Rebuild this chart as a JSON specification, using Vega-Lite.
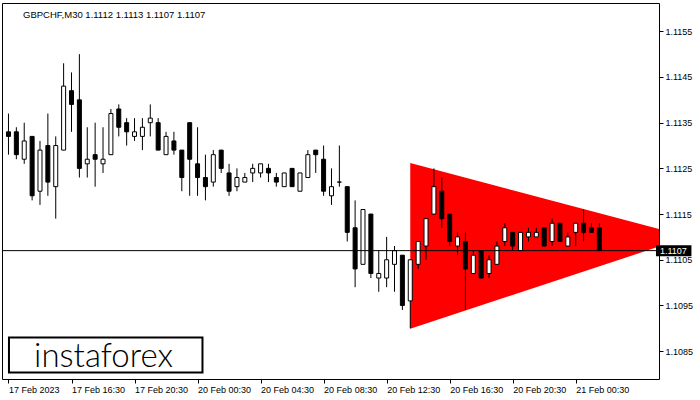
{
  "$schema": "https://vega.github.io/schema/vega-lite/v6.json",
  "width": 657,
  "height": 376,
  "autosize": {"type": "none"},
  "padding": {"left": 2, "top": 3, "right": 41, "bottom": 21},
  "background": "white",
  "config": {"view": {"stroke": "black", "strokeWidth": 1}, "font": "Liberation Sans"},
  "datasets": {
    "candles": [
      {"i":0,"o":1.1133,"h":1.1137,"l":1.1128,"c":1.1132},
      {"i":1,"o":1.1133,"h":1.1134,"l":1.1127,"c":1.1128},
      {"i":2,"o":1.1127,"h":1.1135,"l":1.1126,"c":1.1131},
      {"i":3,"o":1.1132,"h":1.1132,"l":1.1118,"c":1.1119},
      {"i":4,"o":1.1120,"h":1.1131,"l":1.1117,"c":1.1129},
      {"i":5,"o":1.1130,"h":1.1137,"l":1.1119,"c":1.1122},
      {"i":6,"o":1.1121,"h":1.1132,"l":1.1114,"c":1.1130},
      {"i":7,"o":1.1129,"h":1.1148,"l":1.1129,"c":1.1143},
      {"i":8,"o":1.1142,"h":1.1146,"l":1.1133,"c":1.1139},
      {"i":9,"o":1.1140,"h":1.1150,"l":1.1123,"c":1.1125},
      {"i":10,"o":1.1126,"h":1.1134,"l":1.1123,"c":1.1127},
      {"i":11,"o":1.1128,"h":1.1135,"l":1.1121,"c":1.1127},
      {"i":12,"o":1.1126,"h":1.1134,"l":1.1124,"c":1.1127},
      {"i":13,"o":1.1128,"h":1.1138,"l":1.1128,"c":1.1137},
      {"i":14,"o":1.1138,"h":1.1139,"l":1.1132,"c":1.1134},
      {"i":15,"o":1.1135,"h":1.1136,"l":1.1130,"c":1.1133},
      {"i":16,"o":1.1132,"h":1.1136,"l":1.1131,"c":1.1133},
      {"i":17,"o":1.1132,"h":1.1136,"l":1.1129,"c":1.1134},
      {"i":18,"o":1.1135,"h":1.1139,"l":1.1132,"c":1.1136},
      {"i":19,"o":1.1135,"h":1.1136,"l":1.1129,"c":1.1129},
      {"i":20,"o":1.1128,"h":1.1133,"l":1.1128,"c":1.1132},
      {"i":21,"o":1.1131,"h":1.1133,"l":1.1128,"c":1.1129},
      {"i":22,"o":1.1129,"h":1.1129,"l":1.1120,"c":1.1123},
      {"i":23,"o":1.1135,"h":1.1135,"l":1.1119,"c":1.1127},
      {"i":24,"o":1.1126,"h":1.1134,"l":1.1119,"c":1.1123},
      {"i":25,"o":1.1123,"h":1.1128,"l":1.1118,"c":1.1121},
      {"i":26,"o":1.1122,"h":1.1129,"l":1.1121,"c":1.1128},
      {"i":27,"o":1.1129,"h":1.1129,"l":1.1124,"c":1.1125},
      {"i":28,"o":1.1124,"h":1.1126,"l":1.1119,"c":1.1120},
      {"i":29,"o":1.1121,"h":1.1125,"l":1.1120,"c":1.1123},
      {"i":30,"o":1.1122,"h":1.1124,"l":1.1122,"c":1.1123},
      {"i":31,"o":1.1124,"h":1.1126,"l":1.1122,"c":1.1125},
      {"i":32,"o":1.1124,"h":1.1126,"l":1.1123,"c":1.1126},
      {"i":33,"o":1.1125,"h":1.1126,"l":1.1122,"c":1.1124},
      {"i":34,"o":1.1123,"h":1.1124,"l":1.1121,"c":1.1122},
      {"i":35,"o":1.1121,"h":1.1124,"l":1.1121,"c":1.1124},
      {"i":36,"o":1.1125,"h":1.1125,"l":1.1121,"c":1.1121},
      {"i":37,"o":1.1120,"h":1.1124,"l":1.1120,"c":1.1124},
      {"i":38,"o":1.1123,"h":1.1129,"l":1.1123,"c":1.1128},
      {"i":39,"o":1.1129,"h":1.1129,"l":1.1124,"c":1.1128},
      {"i":40,"o":1.1127,"h":1.1130,"l":1.1119,"c":1.1120},
      {"i":41,"o":1.1119,"h":1.1125,"l":1.1117,"c":1.1121},
      {"i":42,"o":1.1122,"h":1.1130,"l":1.1121,"c":1.1122},
      {"i":43,"o":1.1121,"h":1.1121,"l":1.1109,"c":1.1111},
      {"i":44,"o":1.1112,"h":1.1118,"l":1.1099,"c":1.1103},
      {"i":45,"o":1.1104,"h":1.1116,"l":1.1104,"c":1.1116},
      {"i":46,"o":1.1115,"h":1.1115,"l":1.1101,"c":1.1102},
      {"i":47,"o":1.1101,"h":1.1107,"l":1.1098,"c":1.1102},
      {"i":48,"o":1.1101,"h":1.1110,"l":1.1099,"c":1.1105},
      {"i":49,"o":1.1104,"h":1.1108,"l":1.1098,"c":1.1107},
      {"i":50,"o":1.1106,"h":1.1106,"l":1.1094,"c":1.1095},
      {"i":51,"o":1.1096,"h":1.1105,"l":1.1090,"c":1.1105},
      {"i":52,"o":1.1104,"h":1.1109,"l":1.1103,"c":1.1109},
      {"i":53,"o":1.1108,"h":1.1114,"l":1.1105,"c":1.1114},
      {"i":54,"o":1.1115,"h":1.1125,"l":1.1115,"c":1.1121},
      {"i":55,"o":1.1120,"h":1.1123,"l":1.1112,"c":1.1114},
      {"i":56,"o":1.1115,"h":1.1115,"l":1.1108,"c":1.1109},
      {"i":57,"o":1.1108,"h":1.1111,"l":1.1106,"c":1.1110},
      {"i":58,"o":1.1109,"h":1.1111,"l":1.1094,"c":1.1103},
      {"i":59,"o":1.1102,"h":1.1107,"l":1.1102,"c":1.1106},
      {"i":60,"o":1.1107,"h":1.1107,"l":1.1101,"c":1.1101},
      {"i":61,"o":1.1102,"h":1.1106,"l":1.1101,"c":1.1105},
      {"i":62,"o":1.1104,"h":1.1109,"l":1.1104,"c":1.1108},
      {"i":63,"o":1.1109,"h":1.1113,"l":1.1108,"c":1.1112},
      {"i":64,"o":1.1111,"h":1.1111,"l":1.1107,"c":1.1108},
      {"i":65,"o":1.1107,"h":1.1111,"l":1.1107,"c":1.1111},
      {"i":66,"o":1.1110,"h":1.1112,"l":1.1109,"c":1.1111},
      {"i":67,"o":1.1110,"h":1.1112,"l":1.1110,"c":1.1111},
      {"i":68,"o":1.1112,"h":1.1112,"l":1.1108,"c":1.1108},
      {"i":69,"o":1.1109,"h":1.1114,"l":1.1108,"c":1.1113},
      {"i":70,"o":1.1113,"h":1.1113,"l":1.1109,"c":1.1109},
      {"i":71,"o":1.1108,"h":1.1111,"l":1.1108,"c":1.1110},
      {"i":72,"o":1.1111,"h":1.1113,"l":1.1108,"c":1.1113},
      {"i":73,"o":1.1113,"h":1.1116,"l":1.1109,"c":1.1111},
      {"i":74,"o":1.1112,"h":1.1113,"l":1.1111,"c":1.1111},
      {"i":75,"o":1.1112,"h":1.1113,"l":1.1107,"c":1.1107}
    ],
    "triangle": [
      {"i": 51, "top": 1.11262, "bot": 1.10899},
      {"i": 86.3, "top": 1.1110, "bot": 1.1110}
    ],
    "last": [{"price": 1.1107}]
  },
  "layer": [
    {
      "data": {"name": "triangle"},
      "mark": {"type": "area", "color": "#ff0000", "opacity": 1, "clip": true},
      "encoding": {
        "x": {
          "field": "i", "type": "quantitative",
          "scale": {"domain": [-0.1875, 81.9375], "nice": false, "zero": false},
          "axis": {
            "orient": "bottom", "title": null, "grid": false, "domain": false,
            "values": [0, 8, 16, 24, 32, 40, 48, 56, 64, 72],
            "labelExpr": "['17 Feb 2023','17 Feb 16:30','17 Feb 20:30','20 Feb 00:30','20 Feb 04:30','20 Feb 08:30','20 Feb 12:30','20 Feb 16:30','20 Feb 20:30','21 Feb 00:30'][round(datum.value/8)]",
            "tickSize": 4, "tickColor": "black", "tickWidth": 1,
            "labelAlign": "left", "labelPadding": 2, "labelFontSize": 9, "labelFont": "Liberation Sans", "labelColor": "black",
            "labelOverlap": false, "labelBound": false, "labelFlush": false
          }
        },
        "y": {
          "field": "top", "type": "quantitative",
          "scale": {"domain": [1.1080, 1.11601], "nice": false, "zero": false},
          "axis": {
            "orient": "right", "title": null, "grid": false, "domain": false,
            "values": [1.1085, 1.1095, 1.1105, 1.1115, 1.1125, 1.1135, 1.1145, 1.1155],
            "format": ".4f",
            "tickSize": 4, "tickColor": "black", "tickWidth": 1,
            "labelPadding": 2, "labelFontSize": 9, "labelFont": "Liberation Sans", "labelColor": "black",
            "labelOverlap": false, "labelBound": false, "labelFlush": false
          }
        },
        "y2": {"field": "bot"}
      }
    },
    {
      "data": {"name": "candles"},
      "mark": {"type": "rule", "color": "black", "strokeWidth": 1, "clip": true},
      "encoding": {
        "x": {"field": "i", "type": "quantitative"},
        "y": {"field": "l", "type": "quantitative"},
        "y2": {"field": "h"}
      }
    },
    {
      "data": {"name": "candles"},
      "mark": {"type": "bar", "width": 4, "stroke": "black", "strokeWidth": 1, "clip": true},
      "encoding": {
        "x": {"field": "i", "type": "quantitative"},
        "y": {"field": "o", "type": "quantitative"},
        "y2": {"field": "c"},
        "fill": {"condition": {"test": "datum.c >= datum.o", "value": "white"}, "value": "black"}
      }
    },
    {
      "data": {"name": "last"},
      "mark": {"type": "rule", "color": "black", "strokeWidth": 1},
      "encoding": {
        "y": {"field": "price", "type": "quantitative"}
      }
    },
    {
      "data": {"name": "last"},
      "mark": {"type": "bar", "height": 11, "color": "black", "clip": false},
      "encoding": {
        "x": {"datum": 82.19, "type": "quantitative"},
        "x2": {"datum": 86.69},
        "y": {"field": "price", "type": "quantitative"}
      }
    },
    {
      "data": {"name": "last"},
      "mark": {"type": "text", "align": "left", "baseline": "middle", "color": "white", "fontSize": 9, "font": "Liberation Sans", "clip": false},
      "encoding": {
        "x": {"datum": 82.69, "type": "quantitative"},
        "y": {"field": "price", "type": "quantitative"},
        "text": {"field": "price", "type": "quantitative", "format": ".4f"}
      }
    },
    {
      "data": {"values": [{}]},
      "mark": {"type": "rect", "fill": "white", "stroke": "black", "strokeWidth": 2},
      "encoding": {
        "x": {"datum": 0.0625, "type": "quantitative"},
        "x2": {"datum": 24.625},
        "y": {"datum": 1.108799, "type": "quantitative"},
        "y2": {"datum": 1.108032}
      }
    },
    {
      "data": {"values": [{}]},
      "mark": {"type": "text", "text": "instaforex", "align": "center", "baseline": "alphabetic", "fontSize": 33, "font": "Lato", "fontWeight": 300, "color": "black"},
      "encoding": {
        "x": {"datum": 12.06, "type": "quantitative"},
        "y": {"datum": 1.108155, "type": "quantitative"}
      }
    },
    {
      "data": {"values": [{}]},
      "mark": {"type": "text", "text": "GBPCHF,M30  1.1112 1.1113 1.1107 1.1107", "align": "left", "baseline": "alphabetic", "fontSize": 9.5, "font": "Liberation Sans", "color": "black"},
      "encoding": {
        "x": {"datum": 1.85, "type": "quantitative"},
        "y": {"datum": 1.115782, "type": "quantitative"}
      }
    }
  ]
}
